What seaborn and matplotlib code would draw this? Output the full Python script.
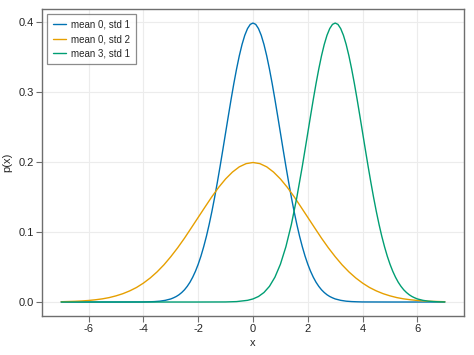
import numpy as np
import pandas as pd
import matplotlib
matplotlib.use("Agg")
import matplotlib.pyplot as plt
import seaborn as sns

# mean 0, std 1 (denser near the peak)
x_m0_s1 = [-7.0, -6.0, -5.0, -4.0, -3.8, -3.6, -3.4, -3.2, -3.0, -2.9,
           -2.8, -2.7, -2.6, -2.5, -2.4, -2.3, -2.2, -2.1, -2.0, -1.9,
           -1.8, -1.7, -1.6, -1.5, -1.4, -1.3, -1.2, -1.1, -1.0, -0.9,
           -0.8, -0.7, -0.6, -0.5, -0.4, -0.3, -0.2, -0.1, 0.0,
           0.1, 0.2, 0.3, 0.4, 0.5, 0.6, 0.7, 0.8, 0.9, 1.0,
           1.1, 1.2, 1.3, 1.4, 1.5, 1.6, 1.7, 1.8, 1.9, 2.0,
           2.1, 2.2, 2.3, 2.4, 2.5, 2.6, 2.7, 2.8, 2.9, 3.0,
           3.2, 3.4, 3.6, 3.8, 4.0, 5.0, 6.0, 7.0]
y_m0_s1 = [0.0, 0.0, 0.0, 0.0001, 0.0003, 0.0006, 0.0012, 0.0024, 0.0044, 0.0060,
           0.0079, 0.0104, 0.0136, 0.0175, 0.0224, 0.0283, 0.0355, 0.0440, 0.0540, 0.0656,
           0.0790, 0.0940, 0.1109, 0.1295, 0.1497, 0.1714, 0.1942, 0.2179, 0.2420, 0.2661,
           0.2897, 0.3123, 0.3332, 0.3521, 0.3683, 0.3814, 0.3910, 0.3970, 0.3989,
           0.3970, 0.3910, 0.3814, 0.3683, 0.3521, 0.3332, 0.3123, 0.2897, 0.2661, 0.2420,
           0.2179, 0.1942, 0.1714, 0.1497, 0.1295, 0.1109, 0.0940, 0.0790, 0.0656, 0.0540,
           0.0440, 0.0355, 0.0283, 0.0224, 0.0175, 0.0136, 0.0104, 0.0079, 0.0060, 0.0044,
           0.0024, 0.0012, 0.0006, 0.0003, 0.0001, 0.0, 0.0, 0.0]

# mean 0, std 2
x_m0_s2 = [-7 + 0.25 * i for i in range(57)]
y_m0_s2 = [0.0004, 0.0007, 0.0010, 0.0015, 0.0022, 0.0032, 0.0045, 0.0063,
           0.0088, 0.0119, 0.0159, 0.0208, 0.0270, 0.0344, 0.0431, 0.0532,
           0.0648, 0.0775, 0.0913, 0.1061, 0.1210, 0.1359, 0.1506, 0.1641,
           0.1760, 0.1858, 0.1933, 0.1979,
           0.1995,
           0.1979, 0.1933, 0.1858, 0.1760, 0.1641, 0.1506, 0.1359, 0.1210,
           0.1061, 0.0913, 0.0775, 0.0648, 0.0532, 0.0431, 0.0344, 0.0270,
           0.0208, 0.0159, 0.0119, 0.0088, 0.0063, 0.0045, 0.0032, 0.0022,
           0.0015, 0.0010, 0.0007, 0.0004]

# mean 3, std 1
x_m3_s1 = [-7.0, -6.0, -5.0, -4.0, -3.0, -2.0, -1.0, -0.6, -0.2, 0.0,
           0.2, 0.4, 0.6, 0.8, 1.0, 1.2, 1.4, 1.6, 1.8, 2.0, 2.1, 2.2, 2.3,
           2.4, 2.5, 2.6, 2.7, 2.8, 2.9, 3.0,
           3.1, 3.2, 3.3, 3.4, 3.5, 3.6, 3.7, 3.8, 3.9, 4.0,
           4.1, 4.2, 4.3, 4.4, 4.5, 4.6, 4.7, 4.8, 4.9, 5.0,
           5.1, 5.2, 5.3, 5.4, 5.5, 5.6, 5.7, 5.8, 5.9, 6.0,
           6.2, 6.4, 6.6, 6.8, 7.0]
y_m3_s1 = [0.0, 0.0, 0.0, 0.0, 0.0, 0.0, 0.0001, 0.0006, 0.0024, 0.0044,
           0.0079, 0.0136, 0.0224, 0.0355, 0.0540, 0.0790, 0.1109, 0.1497, 0.1942, 0.2420,
           0.2661, 0.2897, 0.3123,
           0.3332, 0.3521, 0.3683, 0.3814, 0.3910, 0.3970, 0.3989,
           0.3970, 0.3910, 0.3814, 0.3683, 0.3521, 0.3332, 0.3123, 0.2897, 0.2661, 0.2420,
           0.2179, 0.1942, 0.1714, 0.1497, 0.1295, 0.1109, 0.0940, 0.0790, 0.0656, 0.0540,
           0.0440, 0.0355, 0.0283, 0.0224, 0.0175, 0.0136, 0.0104, 0.0079, 0.0060, 0.0044,
           0.0024, 0.0012, 0.0006, 0.0003, 0.0001]

labels = ["mean 0, std 1", "mean 0, std 2", "mean 3, std 1"]
colors = ["#0072B2", "#E69F00", "#009E73"]

df = pd.concat([
    pd.DataFrame({"x": x_m0_s1, "p": y_m0_s1, "series": labels[0]}),
    pd.DataFrame({"x": x_m0_s2, "p": y_m0_s2, "series": labels[1]}),
    pd.DataFrame({"x": x_m3_s1, "p": y_m3_s1, "series": labels[2]}),
], ignore_index=True)

sns.set_style("white")
plt.rcParams["font.family"] = ["Liberation Sans", "DejaVu Sans"]
plt.rcParams["axes.unicode_minus"] = False

fig = plt.figure(figsize=(4.74, 3.55), dpi=100)
ax = fig.add_axes([42 / 474, 1 - 316 / 355, 422 / 474, 307 / 355])

sns.lineplot(data=df, x="x", y="p", hue="series", palette=colors,
             linewidth=1.0, ax=ax, sort=False)

ax.set_xlim(-7.7, 7.7)
ax.set_ylim(-0.02, 0.419)
ax.set_xticks([-6, -4, -2, 0, 2, 4, 6])
ax.set_yticks([0.0, 0.1, 0.2, 0.3, 0.4])
ax.set_yticklabels(["0.0", "0.1", "0.2", "0.3", "0.4"])
ax.grid(True, color="#ececec", linewidth=0.8)
ax.set_axisbelow(True)
for s in ax.spines.values():
    s.set_color("#6e6e6e")
    s.set_linewidth(1.0)
ax.tick_params(direction="out", length=4, width=0.8, color="#6e6e6e",
               labelsize=8, pad=2, bottom=True, left=True)
ax.set_xlabel("x", fontsize=8, labelpad=3)
ax.set_ylabel("p(x)", fontsize=8, labelpad=4)

leg = ax.legend(loc="upper left", fontsize=7, frameon=True, fancybox=False,
                handlelength=1.4, handletextpad=0.5, borderpad=0.6,
                labelspacing=0.45, borderaxespad=0.5)
leg.get_frame().set_edgecolor("#6e6e6e")
leg.get_frame().set_linewidth(0.9)

fig.savefig("out.png", dpi=100)
